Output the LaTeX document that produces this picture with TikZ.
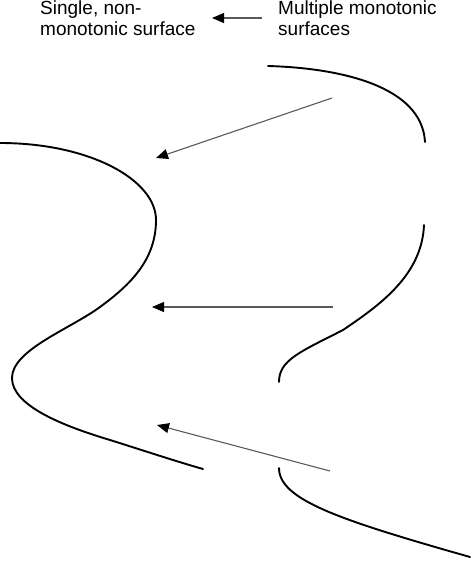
\documentclass[tikz,border=0pt]{standalone}
\usepackage{fontspec}
\setmainfont{Liberation Sans}
\usetikzlibrary{arrows.meta}
\begin{document}
\begin{tikzpicture}[x=1pt,y=-1pt,
  surf/.style={line width=1.9pt, black, line cap=round},
  flow/.style={line width=1.1pt, black!65, -{Triangle[length=12pt,width=10pt,black]}},
  lbl/.style={anchor=north west, align=left, inner sep=0pt, font=\fontsize{19}{21.5}\selectfont}]
\useasboundingbox (0,0) rectangle (474,562);
% labels
\node[lbl] (single) at (40,0.5) {Single, non-\\monotonic surface};
\node[lbl] (multi) at (278,0.5) {Multiple monotonic\\surfaces};
\coordinate (ta) at (262,18);
\coordinate (tb) at (212,18);
\draw[flow] (ta) -- (tb);
% single non-monotonic surface
\draw[surf] (0,143) .. controls (90,143) and (156,180) .. (156,220)
  .. controls (156,260) and (130,285) .. (100,307)
  .. controls (70,329) and (12,350) .. (12,378)
  .. controls (12,405) and (60,425) .. (110,440)
  .. controls (145,451) and (175,461) .. (203,469);
% multiple monotonic surfaces
\draw[surf] (268,66) .. controls (340,68) and (422,86) .. (425,142);
\draw[surf] (424,225) .. controls (422,275) and (380,305) .. (343,330)
  .. controls (300,352) and (279,360) .. (279,382);
\draw[surf] (279,468) .. controls (279,500) and (340,520) .. (470,557);
% arrows
\coordinate (a1s) at (332,98);
\coordinate (a1e) at (156,158);
\coordinate (a2s) at (333,307);
\coordinate (a2e) at (152,307);
\coordinate (a3s) at (330,471);
\coordinate (a3e) at (157,425);
\draw[flow] (a1s) -- (a1e);
\draw[flow] (a2s) -- (a2e);
\draw[flow] (a3s) -- (a3e);
\end{tikzpicture}
\end{document}
